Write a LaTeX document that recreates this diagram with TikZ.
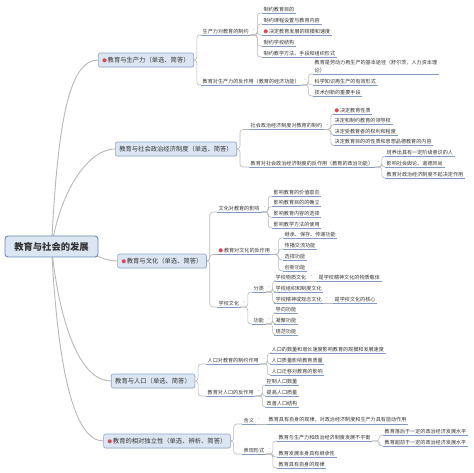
\documentclass[tikz,border=0pt]{standalone}
\usepackage{fontspec}
\newfontfamily\cjk{Noto Sans CJK SC}
\usepackage{tikz}
\usetikzlibrary{positioning, shadows, backgrounds}
\definecolor{boxfill}{HTML}{DCE6F2}
\definecolor{boxline}{HTML}{8EA6C8}
\definecolor{rootline}{HTML}{6A88B8}
\definecolor{ulblue}{HTML}{7F9BC6}
\definecolor{linkgray}{HTML}{B8B8B8}
\definecolor{txtgray}{HTML}{333333}
\definecolor{dotred}{HTML}{E0464F}
\newcommand\dotmark{{\color{dotred}\fontsize{4.5}{4.5}\selectfont ●}\hspace{0.8pt}}
\newcommand\fan[3]{\foreach \ch in {#3} \draw[link] (#1) -- ++(#2,0) |- (\ch.south west);}
\newcommand\fold[1]{\node[fold] (#1-f) at ([xshift=3.5pt]#1.east) {-};}

\begin{document}
\begin{tikzpicture}[x=1pt, y=-1pt,
    rootbox/.style={draw=rootline, line width=0.9pt, fill=boxfill, rounded corners=3pt, minimum width=93pt, minimum height=21pt, font=\cjk\bfseries\fontsize{9.3}{10}\selectfont, text=txtgray},
    topic/.style={draw=boxline, line width=0.6pt, fill=boxfill, rounded corners=2pt, minimum height=14pt, inner xsep=4pt, font=\cjk\fontsize{6.3}{7}\selectfont, text=txtgray, drop shadow={opacity=0.2, shadow xshift=0.7pt, shadow yshift=-0.7pt}},
    uline/.style={draw=ulblue, line width=0.7pt},
    leaf/.style={anchor=south west, inner xsep=1.5pt, inner ysep=1.3pt, align=left, font=\cjk\fontsize{5.1}{7.5}\selectfont, text=txtgray, append after command={\pgfextra{\let\thisleaf\tikzlastnode} (\thisleaf.south west) edge[uline] (\thisleaf.south east)}},
    link/.style={draw=linkgray, line width=0.6pt, rounded corners=3pt},
    fold/.style={inner sep=0pt, font=\cjk\fontsize{5}{5}\selectfont, text=gray}]
    \useasboundingbox (0,0) rectangle (474,473);

    \node[rootbox] (root) at (51.5,246.5) {教育与社会的发展};

    % 生产力
    \node[topic] (b1) at (146,60) {\dotmark 教育与生产力（单选、简答）};
    \node[leaf] (p11) at (201,35) {生产力对教育的制约};
    \node[leaf] (l11a) at (262,13) {制约教育目的};
    \node[leaf] (l11b) at (262,24) {制约课程设置与教育内容};
    \node[leaf] (l11c) at (262,35) {\dotmark 决定教育发展的规模和速度};
    \node[leaf] (l11d) at (262,46) {制约学校结构};
    \node[leaf] (l11e) at (262,57) {制约教学方法、手段和组织形式};
    \node[leaf] (p12) at (201,85) {教育对生产力的反作用（教育的经济功能）};
    \node[leaf] (l12a) at (313,74) {教育是劳动力再生产的基本途径（舒尔茨，人力资本理\\论）};
    \node[leaf] (l12b) at (313,85) {科学知识再生产的有效形式};
    \node[leaf] (l12c) at (313,96) {技术创新的重要手段};

    % 政治经济制度
    \node[topic] (b2) at (176,149) {教育与社会政治经济制度（单选、简答）};
    \node[leaf] (p21) at (249,129.5) {社会政治经济制度对教育的制约};
    \node[leaf] (l21a) at (333,114) {\dotmark 决定教育性质};
    \node[leaf] (l21b) at (333,124.5) {决定和制约教育的领导权};
    \node[leaf] (l21c) at (333,135) {决定受教育者的权利和程度};
    \node[leaf] (l21d) at (333,145.5) {决定教育目的的性质和思想品德教育的内容};
    \node[leaf] (p22) at (249,167) {教育对社会政治经济制度的反作用（教育的政治功能）};
    \node[leaf] (l22a) at (385,156) {培养出具有一定阶级意识的人};
    \node[leaf] (l22b) at (385,167) {影响社会舆论、道德风尚};
    \node[leaf] (l22c) at (385,178) {教育对政治经济制度不起决定作用};

    % 文化
    \node[topic] (b3) at (162,261) {\dotmark 教育与文化（单选、简答）};
    \node[leaf] (p31) at (217,212) {文化对教育的影响};
    \node[leaf] (l31a) at (272,196) {影响教育的价值取向};
    \node[leaf] (l31b) at (272,206.7) {影响教育目的的确立};
    \node[leaf] (l31c) at (272,217.3) {影响教育内容的选择};
    \node[leaf] (l31d) at (272,228) {影响教学方法的使用};
    \node[leaf] (p32) at (217,254.5) {\dotmark 教育对文化的反作用};
    \node[leaf] (l32a) at (283,238) {继承、保存、传递功能};
    \node[leaf] (l32b) at (283,249) {传播交流功能};
    \node[leaf] (l32c) at (283,260) {选择功能};
    \node[leaf] (l32d) at (283,271) {创新功能};
    \node[leaf] (p33) at (217,307) {学校文化};
    \node[leaf] (q1) at (252,292) {分类};
    \node[leaf] (r1) at (274,281) {学校物质文化};
    \node[leaf] (s1) at (317,281) {是学校精神文化的物质载体};
    \node[leaf] (r2) at (274,292) {学校组织和制度文化};
    \node[leaf] (r3) at (274,303) {学校精神或观念文化};
    \node[leaf] (s3) at (333,303) {是学校文化的核心};
    \node[leaf] (q2) at (252,324) {功能};
    \node[leaf] (r4) at (274,313) {导向功能};
    \node[leaf] (r5) at (274,324) {凝聚功能};
    \node[leaf] (r6) at (274,335) {规范功能};

    % 人口
    \node[topic] (b4) at (153,381) {教育与人口（单选、简答）};
    \node[leaf] (p41) at (206,364) {人口对教育的制约作用};
    \node[leaf] (l41a) at (270,353) {人口的数量和增长速度影响教育的规模和发展速度};
    \node[leaf] (l41b) at (270,364) {人口质量影响教育质量};
    \node[leaf] (l41c) at (270,375) {人口迁移对教育的影响};
    \node[leaf] (p42) at (206,396) {教育对人口的反作用};
    \node[leaf] (l42a) at (265,385) {控制人口数量};
    \node[leaf] (l42b) at (265,396) {提高人口质量};
    \node[leaf] (l42c) at (265,407) {改善人口结构};

    % 相对独立性
    \node[topic] (b5) at (167,441) {\dotmark 教育的相对独立性（单选、辨析、简答）};
    \node[leaf] (p51) at (242,424) {含义};
    \node[leaf] (l51) at (267,424) {教育具有自身的规律，对政治经济制度和生产力具有能动作用};
    \node[leaf] (p52) at (242,454) {表现形式};
    \node[leaf] (p53) at (277,441) {教育与生产力和政治经济制度发展不平衡};
    \node[leaf] (l53a) at (383,435) {教育落后于一定的政治经济发展水平};
    \node[leaf] (l53b) at (383,446) {教育超前于一定的政治经济发展水平};
    \node[leaf] (l52b) at (277,457) {教育发展本身具有继承性};
    \node[leaf] (l52c) at (277,468) {教育具有自身的规律};

    \foreach \n in {p11,p12,p21,p22,p31,p32,p33,q1,q2,r1,r3,p41,p42,p51,p52,p53}
        {\fold{\n}}

    \fan{b1.east}{3}{p11,p12}
    \fan{p11.south east}{7}{l11a,l11b,l11c,l11d,l11e}
    \fan{p12.south east}{7}{l12a,l12b,l12c}
    \fan{b2.east}{3}{p21,p22}
    \fan{p21.south east}{7}{l21a,l21b,l21c,l21d}
    \fan{p22.south east}{7}{l22a,l22b,l22c}
    \fan{b3.east}{3}{p31,p32,p33}
    \fan{p31.south east}{7}{l31a,l31b,l31c,l31d}
    \fan{p32.south east}{7}{l32a,l32b,l32c,l32d}
    \fan{p33.south east}{7}{q1,q2}
    \fan{q1.south east}{7}{r1,r2,r3}
    \fan{q2.south east}{7}{r4,r5,r6}
    \draw[link] (r1.south east) -- (s1.south west);
    \draw[link] (r3.south east) -- (s3.south west);
    \fan{b4.east}{3}{p41,p42}
    \fan{p41.south east}{7}{l41a,l41b,l41c}
    \fan{p42.south east}{7}{l42a,l42b,l42c}
    \fan{b5.east}{3}{p51,p52}
    \draw[link] (p51.south east) -- (l51.south west);
    \fan{p52.south east}{7}{p53,l52b,l52c}
    \fan{p53.south east}{7}{l53a,l53b}

    \begin{scope}[on background layer]
        \draw[link, line width=0.9pt] (root.center) .. controls +(6,-120) and +(-30,0) .. (b1.west);
        \draw[link, line width=0.9pt] (root.center) .. controls +(10,-60) and +(-25,0) .. (b2.west);
        \draw[link, line width=0.9pt] (root.center) .. controls +(40,0) and +(-20,0) .. (b3.west);
        \draw[link, line width=0.9pt] (root.center) .. controls +(8,80) and +(-30,0) .. (b4.west);
        \draw[link, line width=0.9pt] (root.center) .. controls +(6,120) and +(-30,0) .. (b5.west);
    \end{scope}
\end{tikzpicture}
\end{document}
